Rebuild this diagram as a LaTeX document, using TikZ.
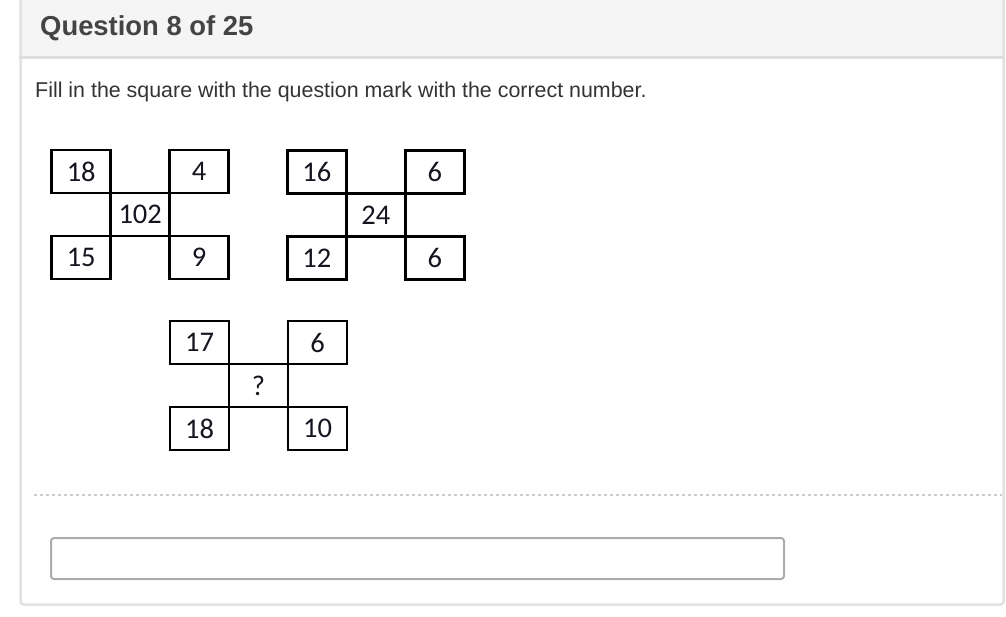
\documentclass[tikz,border=0pt]{standalone}
\usepackage{fontspec}
\setmainfont{Liberation Sans}
\newfontfamily\numfont{Carlito}
\definecolor{hdrbg}{HTML}{F5F5F5}
\definecolor{panelborder}{HTML}{E2E2E2}
\definecolor{hdrline}{HTML}{DEDEDE}
\definecolor{titletext}{HTML}{444444}
\definecolor{bodytext}{HTML}{333333}
\definecolor{dotline}{HTML}{CCCCCC}
\definecolor{inputborder}{HTML}{ABABAB}
\definecolor{numtext}{HTML}{151520}
\tikzset{
  cellbox/.style={draw=black, line width=2.5pt, minimum width=59pt, minimum height=43pt,
    inner sep=0pt, outer sep=0pt, font=\numfont\fontsize{28.5}{30}\selectfont, text=numtext},
  titlelabel/.style={anchor=base west, inner sep=0pt, font=\bfseries\fontsize{27.4}{30}\selectfont, text=titletext},
  bodylabel/.style={anchor=base west, inner sep=0pt, font=\fontsize{21.4}{24}\selectfont, text=bodytext},
}
\newcommand\cellnum[1]{\raisebox{-2.5pt}{#1}}
\newcommand\mypuzzle[8]{%
  \begin{scope}[shift={(#2,#3)}]
    \node[cellbox] (#1-c)  at (88.5,64.5) {\cellnum{#6}};
    \node[cellbox] (#1-tl) at (29.5,21.5) {\cellnum{#4}};
    \node[cellbox] (#1-tr) at (147.5,21.5) {\cellnum{#5}};
    \node[cellbox] (#1-bl) at (29.5,107.5) {\cellnum{#7}};
    \node[cellbox] (#1-br) at (147.5,107.5) {\cellnum{#8}};
  \end{scope}}
\begin{document}
\begin{tikzpicture}[x=1pt,y=-1pt]
\useasboundingbox (0,0) rectangle (1006,616);
\fill[white] (0,0) rectangle (1006,616);
% header
\fill[hdrbg] (19,0) rectangle (1004,56);
% panel border
\draw[panelborder, line width=2.5pt, rounded corners=3pt] (20.5,-5) -- (20.5,604.5) -- (1003.5,604.5) -- (1003.5,-5);
\draw[hdrline, line width=3pt] (19,57.5) -- (1004,57.5);
\node[titlelabel] (title) at (40,35) {Question 8 of 25};
\node[bodylabel] (prompt) at (35,97) {Fill in the square with the question mark with the correct number.};
% puzzles
\mypuzzle{p1}{51.7}{150}{18}{4}{102}{15}{9}
\mypuzzle{p2}{287.3}{150.5}{16}{6}{24}{12}{6}
\mypuzzle{p3}{170}{321}{17}{6}{?}{18}{10}
% separator
\coordinate (sepL) at (34,495);
\coordinate (sepR) at (1002,495);
\draw[dotline, line width=2.7pt, dash pattern=on 2.7pt off 3.3pt] (sepL) -- (sepR);
% answer input
\node[draw=inputborder, line width=2pt, rounded corners=3pt, minimum width=733pt, minimum height=41pt, inner sep=0pt, anchor=north west] (answer) at (50,537) {};
\end{tikzpicture}
\end{document}
